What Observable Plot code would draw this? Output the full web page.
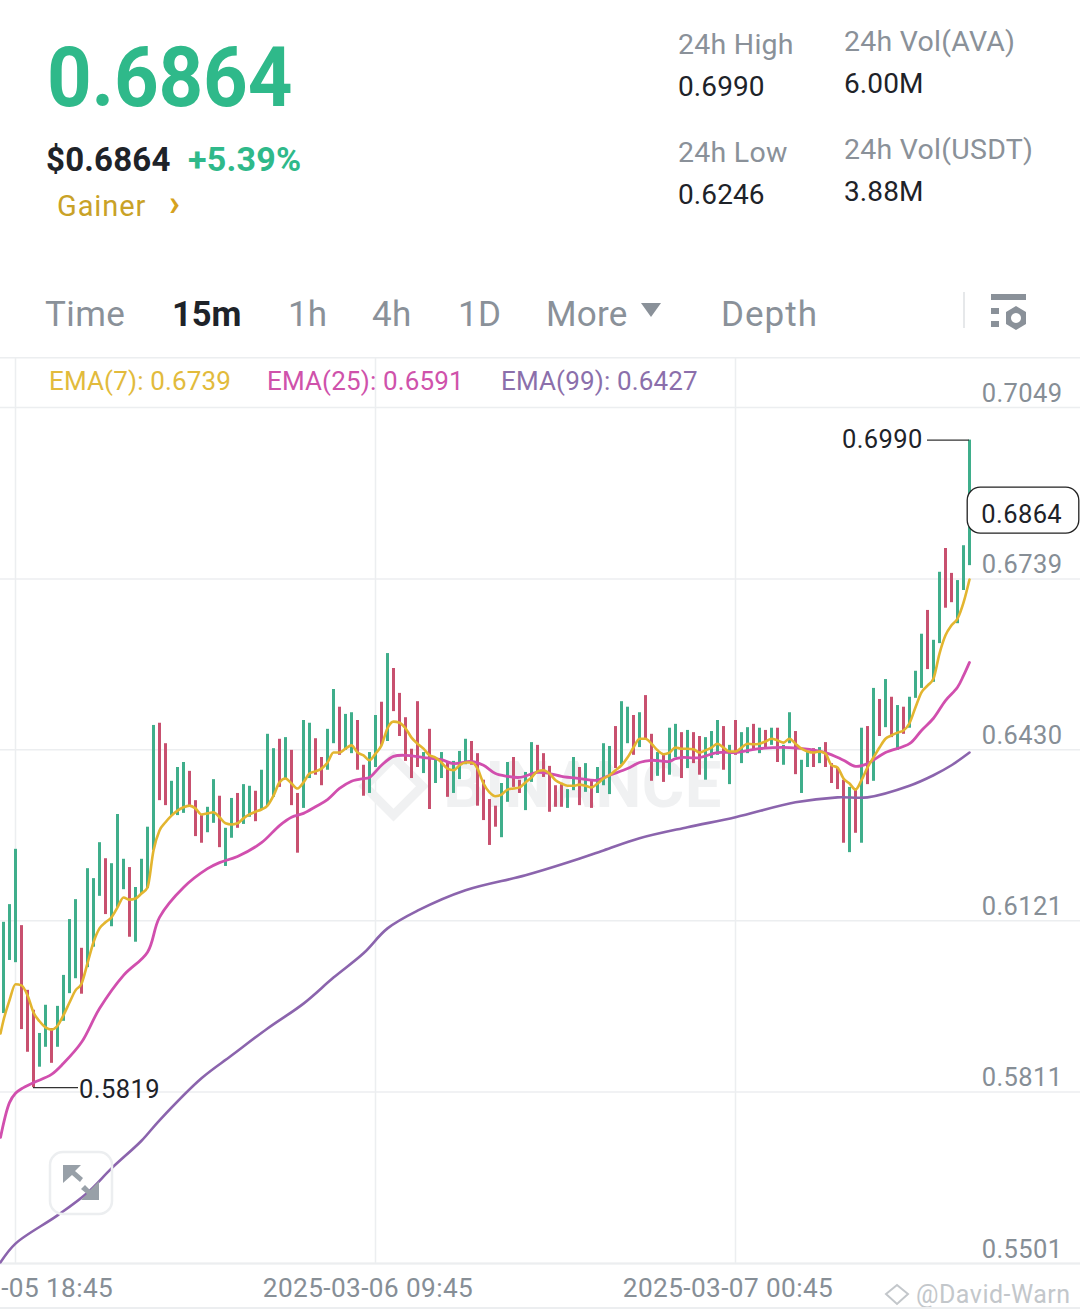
<!DOCTYPE html>
<html><head><meta charset="utf-8">
<script src="https://cdn.jsdelivr.net/npm/d3@7"></script>
<script src="https://cdn.jsdelivr.net/npm/@observablehq/plot@0.6"></script>
<style>
html,body{margin:0;padding:0;background:#fff;}
body{width:1080px;height:1316px;position:relative;overflow:hidden;font-family:Roboto,sans-serif;color:#1e2329;}
.t{position:absolute;white-space:nowrap;line-height:1;transform:translateY(-50%);}
#chart{position:absolute;left:0;top:357px;}
#chart svg{display:block;}
</style></head><body>
<div id="head"></div>
<div id="chart"></div>
<script>
// candles: first candle index, then high, low, direction
const firstCandle = -2;
const candleHigh = [
.6118,.6150,.6250,.6112,.5995,.5959,.5917,.5968,.5926,.5966,
.6022,.6123,.6159,.6071,.6215,.6197,.6262,.6233,.6224,.6313,
.6232,.6217,.6181,.6232,.6290,.6474,.6478,.6441,.6373,.6398,
.6407,.6391,.6338,.6311,.6326,.6376,.6346,.6288,.6342,.6351,
.6367,.6364,.6355,.6393,.6458,.6432,.6449,.6452,.6429,.6351,
.6483,.6478,.6450,.6416,.6467,.6539,.6507,.6494,.6497,.6483,
.6402,.6425,.6492,.6516,.6604,.6577,.6532,.6488,.6431,.6517,
.6425,.6467,.6411,.6425,.6407,.6409,.6427,.6449,.6445,.6423,
.6375,.6340,.6328,.6369,.6407,.6416,.6375,.6389,.6443,.6438,
.6423,.6400,.6365,.6367,.6358,.6416,.6398,.6405,.6375,.6398,
.6441,.6436,.6472,.6517,.6507,.6492,.6497,.6528,.6458,.6425,
.6420,.6469,.6476,.6461,.6465,.6461,.6454,.6452,.6463,.6483,
.6472,.6438,.6483,.6461,.6470,.6476,.6469,.6465,.6469,.6469,
.6438,.6497,.6463,.6411,.6425,.6432,.6434,.6443,.6405,.6396,
.6375,.6362,.6360,.6469,.6472,.6541,.6521,.6557,.6525,.6510,
.6507,.6525,.6572,.6639,.6682,.6628,.6751,.6794,.6749,.6736,
.6799,.6990];
const candleLow = [
.5953,.6049,.6045,.5924,.5883,.5819,.5856,.5892,.5863,.5892,
.5939,.5989,.6016,.5988,.6036,.6073,.6165,.6132,.6110,.6145,
.6177,.6091,.6082,.6170,.6179,.6248,.6338,.6329,.6311,.6311,
.6315,.6329,.6273,.6261,.6280,.6297,.6253,.6219,.6270,.6288,
.6295,.6308,.6300,.6320,.6329,.6344,.6362,.6378,.6329,.6243,
.6324,.6378,.6384,.6365,.6393,.6441,.6420,.6429,.6423,.6393,
.6346,.6351,.6398,.6438,.6445,.6499,.6454,.6409,.6378,.6398,
.6387,.6322,.6369,.6378,.6344,.6351,.6376,.6403,.6402,.6328,
.6302,.6257,.6290,.6271,.6335,.6362,.6351,.6320,.6371,.6387,
.6380,.6317,.6326,.6326,.6324,.6356,.6329,.6353,.6324,.6351,
.6365,.6349,.6396,.6403,.6441,.6420,.6434,.6447,.6373,.6382,
.6371,.6384,.6416,.6378,.6396,.6405,.6384,.6375,.6414,.6420,
.6393,.6367,.6420,.6405,.6423,.6429,.6423,.6432,.6438,.6407,
.6402,.6441,.6385,.6351,.6398,.6398,.6405,.6398,.6369,.6358,
.6261,.6244,.6279,.6261,.6367,.6373,.6454,.6470,.6452,.6429,
.6458,.6469,.6523,.6541,.6575,.6552,.6622,.6686,.6696,.6658,
.6718,.6763];
const candleSide = ("uuuddduudu"+"uuuduuuduu"+"uduuuudduu"+"uddduuduud"+"uuduuududd"+"uudduuduud"+
  "duududdddd"+"uduuduuudd"+"ddduudduud"+"dddduududu"+"uuduududdu"+"duududduuu"+
  "duduududud"+"uuduududdd"+"dududududu"+"duuuduudduuu").split("");

// EMA(7) read at each candle from -2 on
const ema7Start = -2;
const ema7 = [
.5941,.5977,.6006,.6004,.5986,.5955,.5939,.5928,.5924,.5931,.5950,.5973,.5995,.6007,.6044,.6082,.6107,.6118,.6127,.6145,
.6163,.6159,.6161,.6170,.6181,.6248,.6284,.6299,.6311,.6320,.6326,.6329,.6324,.6313,.6315,.6317,.6308,.6297,.6295,.6297,
.6306,.6313,.6318,.6322,.6329,.6347,.6371,.6378,.6369,.6360,.6371,.6387,.6391,.6396,.6407,.6425,.6425,.6432,.6438,.6425,
.6420,.6411,.6423,.6438,.6469,.6481,.6479,.6469,.6452,.6441,.6432,.6420,.6416,.6407,.6396,.6393,.6402,.6407,.6407,.6396,
.6369,.6353,.6346,.6349,.6358,.6360,.6362,.6371,.6380,.6391,.6393,.6387,.6375,.6369,.6365,.6365,.6367,.6365,.6362,.6369,
.6378,.6384,.6393,.6402,.6416,.6434,.6450,.6450,.6441,.6429,.6422,.6425,.6434,.6432,.6432,.6431,.6425,.6429,.6434,.6441,
.6434,.6427,.6427,.6434,.6441,.6440,.6441,.6445,.6450,.6447,.6443,.6450,.6441,.6432,.6427,.6425,.6427,.6423,.6402,.6398,
.6378,.6369,.6358,.6375,.6398,.6416,.6434,.6450,.6456,.6461,.6465,.6478,.6507,.6534,.6546,.6559,.6604,.6637,.6655,.6667,
.6696,.6738];

// EMA(25) samples
const ema25X = [-2.5,-1,0,1,3,6,8,11,14,18,22,24,28,32,34,37,41,44,46,48,50,52,54,56,57,
  58,59,61,63,65,68,71,73,76,78,80,82,84,87,89,91,94,97,99,102,104,106,109,110,
  111,114,117,120,124,129,135,138,140,142,145,149,151,153,155,157,158,159];
const ema25Y = [.5729,.5792,.5809,.5817,.5828,.5843,.5863,.5901,.5962,.6022,.6064,.6127,.6181,.6215,.6226,.6237,.6262,.6293,.6308,.6315,.6327,.6340,.6360,.6373,.6376,
  .6378,.6380,.6402,.6418,.6420,.6416,.6412,.6405,.6409,.6402,.6387,.6382,.6380,.6389,.6387,.6382,.6378,.6375,.6384,.6396,.6407,.6411,.6409,.6414,
  .6416,.6416,.6425,.6425,.6432,.6434,.6425,.6411,.6400,.6405,.6425,.6441,.6465,.6487,.6519,.6543,.6564,.6588];

// EMA(99) samples
const ema99X = [-2.5,0,7,12,16,21,24,31,36,42,48,53,58,62,67,75,85,92,98,104,112,120,130,137,142,149,153,156,159];
const ema99Y = [.5503,.5537,.5588,.5629,.5673,.5723,.5760,.5836,.5877,.5926,.5971,.6018,.6062,.6107,.6139,.6176,.6203,.6226,.6248,.6270,.6290,.6308,.6335,.6344,.6344,.6365,.6384,.6402,.6425];

// axes
const priceTicks = [0.7049,0.6739,0.6430,0.6121,0.5811,0.5501];
const timeTicks = [0,60,120];
const timeLabels = ["2025-03-05 18:45","2025-03-06 09:45","2025-03-07 00:45"];

// annotations
const highLabel = {i:159, p:0.6990, text:"0.6990"};
const lowLabel = {i:3, p:0.5819, text:"0.5819"};
const lastPrice = 0.6864;

// header
const stats = [["24h High","0.6990",678,45],["24h Low","0.6246",678,153],["24h Vol(AVA)","6.00M",844,42],["24h Vol(USDT)","3.88M",844,150]];
const tabs = [["Time",45,.4],["15m",172,0],["1h",288,.2],["4h",372,.4],["1D",458,.4],["More",546,.2],["Depth",721,1]];
const legend = [["EMA(7): 0.6739",49,"#e2bb3c"],["EMA(25): 0.6591",267,"#cf52ab"],["EMA(99): 0.6427",501,"#8b6fab"]];

const GREEN="#2fb98a", C_UP="#3fae8b", C_DOWN="#c8506f", GRID="#eceef0", MARK="#f0f1f2";
const FS=25.5;

function add(text,x,y,css){
  const d=document.createElement("div");d.className="t";d.textContent=text;
  d.style.left=x+"px";d.style.top=y+"px";d.style.cssText+=css||"";
  document.body.appendChild(d);return d;
}
add("0.6864",47,78,"font-size:78px;font-weight:700;color:"+GREEN+";letter-spacing:-.2px;transform:translateY(-50%) scaleY(1.07)");
add("$0.6864",46,159,"font-size:33px;font-weight:700;color:#1e2329;letter-spacing:.2px");
add("+5.39%",188,159,"font-size:34px;font-weight:700;color:"+GREEN+";letter-spacing:.2px");
add("Gainer",57,206,"font-size:29px;color:#c9a227;letter-spacing:.9px");
add("›",169,203,"font-size:36px;font-weight:700;color:#d6a21e");
for(const [a,b,x,y] of stats){
  add(a,x,y,"font-size:28.5px;color:#8a9199;letter-spacing:.25px");
  add(b,x,y+42,"font-size:28px;color:#1e2329;letter-spacing:.1px");
}
for(const [a,x,s] of tabs){
  add(a,x,314,a==="15m"?"font-size:34.5px;font-weight:700;color:#1e2329":"font-size:35px;color:#8a9199;letter-spacing:"+s+"px");
}
for(const [a,x,c] of legend){
  add(a,x,381,"z-index:2;font-size:26px;letter-spacing:.15px;color:"+c);
}
add("@David-Warn",916,1294,"font-size:25px;color:#c3c7cb;letter-spacing:.5px");

document.body.insertAdjacentHTML("beforeend",`
<svg style="position:absolute;left:0;top:0;z-index:3;pointer-events:none" width="1080" height="1316">
  <path d="M641 303h20l-10 14z" fill="#8a9199"/>
  <rect x="963" y="292" width="2" height="36" fill="#e6e8ea"/>
  <g fill="#8a9199">
    <rect x="991" y="294" width="35" height="6"/>
    <rect x="991" y="308" width="8" height="6"/><rect x="991" y="321" width="8" height="6"/>
    <path fill-rule="evenodd" d="M1016 306l10 6v12l-10 6-10-6v-12zM1016 313a5 5 0 1 0 .01 0z"/>
  </g>
  <rect x="50" y="1152" width="62" height="62" rx="13" fill="none" stroke="#eceef0" stroke-width="2.5"/>
  <g fill="#98a0a8">
    <path d="M63 1165h18l-6 6 8 7-3 4-8-7-9 8z"/>
    <path d="M99 1200h-18l6-6-6-5 4-4 5 5 9-9z"/>
  </g>
  <rect x="0" y="1307" width="1080" height="2" fill="#eceef0"/>
  <path d="M897 1285l11 9-11 10-11-10z" fill="none" stroke="#c3c7cb" stroke-width="2"/>
</svg>`);

const candles = candleHigh.map((h,k)=>({i:firstCandle+k,high:h,low:candleLow[k],side:candleSide[k]}));
const linePts = (xs,ys)=>xs.map((x,k)=>({i:x,p:ys[k]}));
const e7 = ema7.map((p,k)=>({i:ema7Start+k,p}));
const e7full = [{i:-2.5,p:.5917},...e7];
const e25 = linePts(ema25X,ema25Y), e99 = linePts(ema99X,ema99Y);
const textOpt = {fontSize:FS,fontFamily:"Roboto"};

const plot = Plot.plot({
  width:1080,height:959,marginTop:0,marginBottom:53,marginLeft:0,marginRight:0,
  style:{fontFamily:"Roboto",letterSpacing:"0.4px",background:"transparent"},
  x:{domain:[-2.5,177.5],axis:null},
  y:{domain:[0.5501,0.71394],axis:null},
  color:{domain:["u","d"],range:[C_UP,C_DOWN]},
  marks:[
    Plot.gridX(timeTicks,{stroke:GRID,strokeOpacity:1,strokeWidth:1.5}),
    Plot.ruleY(priceTicks,{stroke:GRID,strokeWidth:1.5}),
    Plot.ruleY([0.71394],{stroke:GRID,strokeWidth:2}),
    Plot.ruleY([0.5501],{stroke:GRID,strokeWidth:2}),
    // watermark
    Plot.text(["BINANCE"],{x:[94.5],y:[0.6364],fontSize:65,fontWeight:700,fill:MARK,fontFamily:"Roboto"}),
    Plot.dot([0],{x:[63],y:[0.6364],symbol:"diamond2",r:26,stroke:MARK,strokeWidth:9,fill:"none"}),
    // candles
    Plot.ruleX(candles,{x:"i",y1:"low",y2:"high",stroke:"side",strokeWidth:3}),
    // moving averages
    Plot.line(e99,{x:"i",y:"p",stroke:"#8b64ad",strokeWidth:2.6,curve:"catmull-rom"}),
    Plot.line(e25,{x:"i",y:"p",stroke:"#d14fae",strokeWidth:2.8,curve:"catmull-rom"}),
    Plot.line(e7full,{x:"i",y:"p",stroke:"#e3b52f",strokeWidth:2.6,curve:"monotone-x"}),
    // high / low annotations
    Plot.ruleY([highLabel],{y:"p",x1:152,x2:"i",stroke:"#333",strokeWidth:1.2}),
    Plot.text([highLabel],{x:151.2,y:"p",text:"text",textAnchor:"end",fill:"#1e2329",...textOpt}),
    Plot.ruleY([lowLabel],{y:"p",x1:"i",x2:10.5,stroke:"#333",strokeWidth:1.2}),
    Plot.text([lowLabel],{x:10.6,y:"p",dy:2,text:"text",textAnchor:"start",fill:"#1e2329",...textOpt}),
    // price axis
    Plot.axisY(priceTicks,{anchor:"right",tickSize:0,tickPadding:0,textAnchor:"end",dx:-18,dy:-14,label:null,
      tickFormat:d=>d.toFixed(4),fill:"#868e96",fontSize:FS,fontFamily:"Roboto"}),
    // last price badge
    Plot.rect([lastPrice],{x1:[158.7],x2:[177.3],y1:[0.6821],y2:[0.6904],rx:13,fill:"#fff",stroke:"#222",strokeWidth:1.3}),
    Plot.text([lastPrice],{x:[167.7],y:[lastPrice],dy:5,text:d=>d.toFixed(4),fill:"#1e2329",...textOpt}),
    // time axis
    Plot.axisX(timeTicks,{anchor:"bottom",tickSize:0,tickPadding:0,dx:-7.5,dy:15,label:null,
      tickFormat:d=>timeLabels[timeTicks.indexOf(d)],fill:"#868e96",fontSize:26.2,fontFamily:"Roboto"})
  ]
});
document.getElementById("chart").appendChild(plot);
</script>
</body></html>
